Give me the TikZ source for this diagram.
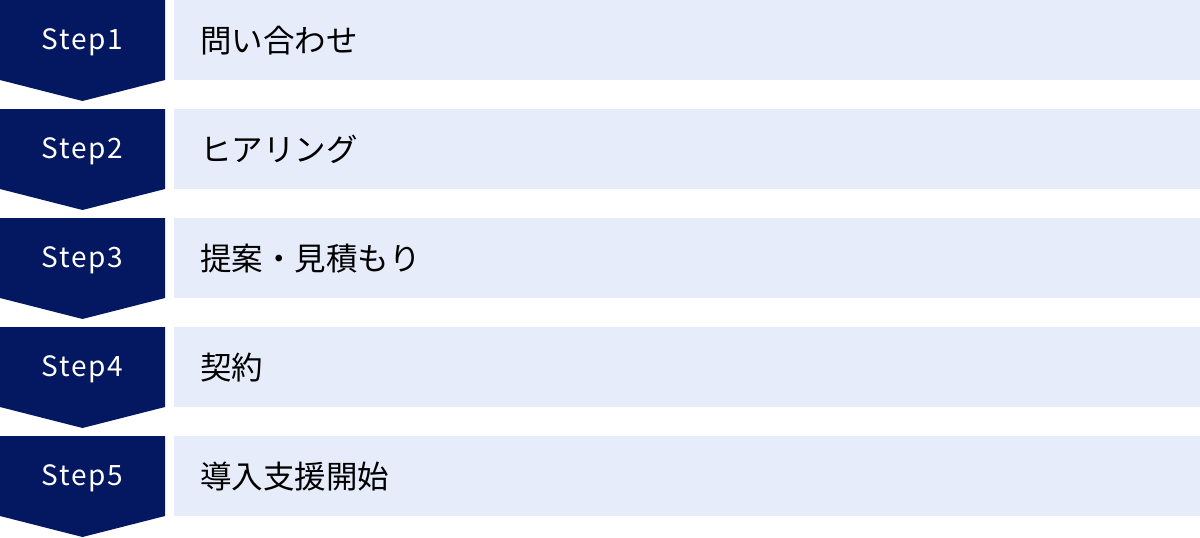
\documentclass[tikz,border=0pt]{standalone}
\usepackage{fontspec}
\newfontfamily\jpfont{Noto Sans CJK JP}
\newfontfamily\stepfont[LetterSpace=6]{Noto Sans CJK JP}
\definecolor{navy}{RGB}{4,24,98}
\definecolor{lightbg}{RGB}{230,236,250}
\tikzset{
  stepshape/.style={fill=navy, draw=none},
  barshape/.style={fill=lightbg, draw=none},
  steplabel/.style={text=white, font=\stepfont\fontsize{28}{32}\selectfont, inner sep=0pt, anchor=center},
  barlabel/.style={text=black, font=\jpfont\fontsize{31.5}{36}\selectfont, inner sep=0pt, anchor=west}
}
\begin{document}
\begin{tikzpicture}[x=1pt,y=-1pt]
\useasboundingbox (0,0) rectangle (1200,538);
\foreach \k/\lab in {0/問い合わせ,1/ヒアリング,2/提案・見積もり,3/契約,4/導入支援開始}{
  \pgfmathsetmacro{\t}{109*\k}
  \fill[stepshape] (0,\t) -- (165,\t) -- (165,\t+80) -- (82.5,\t+101) -- (0,\t+80) -- cycle;
  \fill[barshape] (174,\t) rectangle (1200,\t+80);
  \pgfmathtruncatemacro{\n}{\k+1}
  \node[steplabel] (s\n) at (82.5,\t+42) {Step\n};
  \node[barlabel] (b\n) at (200,\t+40.5) {\lab};
}
\end{tikzpicture}
\end{document}
